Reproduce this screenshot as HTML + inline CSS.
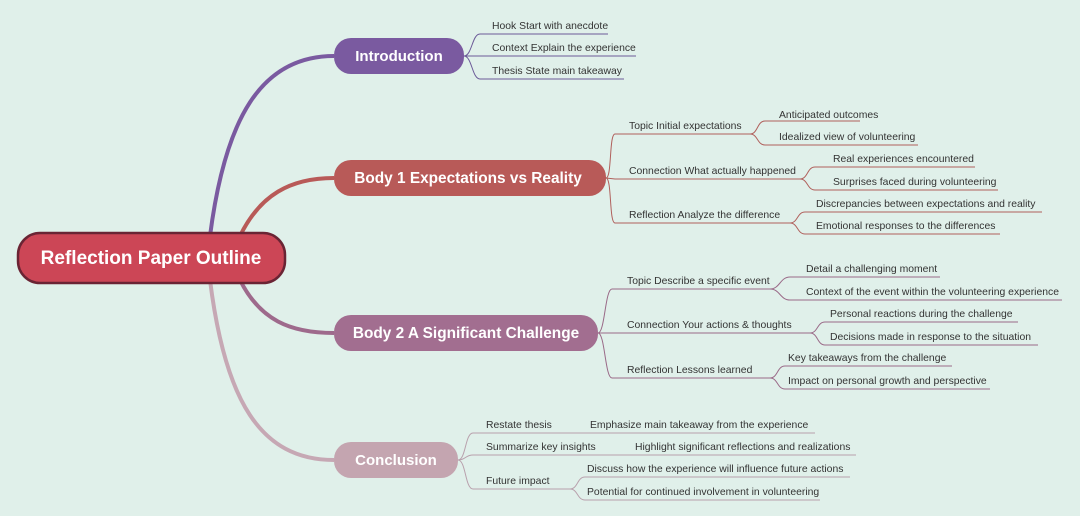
<!DOCTYPE html>
<html><head><meta charset="utf-8"><style>
html,body{margin:0;padding:0;width:1080px;height:516px;overflow:hidden;background:#e0f0ea;}
svg{display:block}
text{font-family:"Liberation Sans",Arial,sans-serif;}
.l{font-size:10.4px;fill:#333;}
.n{font-size:15px;font-weight:bold;fill:#fff;text-anchor:middle;}
</style></head><body>
<svg width="1080" height="516" viewBox="0 0 1080 516" xmlns="http://www.w3.org/2000/svg">
<rect width="1080" height="516" fill="#e0f0ea"/>
<path d="M210,236 C225,120 260,56 334,56" fill="none" stroke="#7a5aa0" stroke-width="4"/>
<path d="M240,236 C260,195 290,178 334,178" fill="none" stroke="#b85a58" stroke-width="4"/>
<path d="M240,280 C260,320 290,333 334,333" fill="none" stroke="#9e6a8c" stroke-width="4"/>
<path d="M210,280 C225,400 260,460 334,460" fill="none" stroke="#c6a8b4" stroke-width="4"/>

<g fill="none" stroke="#6b5a98" stroke-width="1">
<path d="M464,56 C472,56 472,34 480,34 L608,34"/>
<path d="M464,56 L636,56"/>
<path d="M464,56 C472,56 472,79 480,79 L624,79"/>
</g>
<g fill="none" stroke="#b0605c" stroke-width="1">
<path d="M606,178 C612,178 609,134 615,134 L750,134"/>
<path d="M606,178 L615,179 L800,179"/>
<path d="M606,178 C612,178 609,223 615,223 L790,223"/>
<path d="M750,134 C758,134 757,121 765,121 L860,121"/>
<path d="M750,134 C758,134 757,145 765,145 L918,145"/>
<path d="M800,179 C808,179 807,167 815,167 L975,167"/>
<path d="M800,179 C808,179 807,190 815,190 L998,190"/>
<path d="M790,223 C798,223 797,212 805,212 L1042,212"/>
<path d="M790,223 C798,223 797,234 805,234 L1000,234"/>
</g>
<g fill="none" stroke="#9a6a88" stroke-width="1">
<path d="M598,333 C605,333 605,289 612,289 L770,289"/>
<path d="M598,333 L810,333"/>
<path d="M598,333 C605,333 605,378 612,378 L770,378"/>
<path d="M770,289 C780,289 780,277 790,277 L940,277"/>
<path d="M770,289 C780,289 780,300 790,300 L1062,300"/>
<path d="M810,333 C818,333 817,322 825,322 L1018,322"/>
<path d="M810,333 C818,333 817,345 825,345 L1038,345"/>
<path d="M770,378 C778,378 777,366 785,366 L952,366"/>
<path d="M770,378 C778,378 777,389 785,389 L990,389"/>
</g>
<g fill="none" stroke="#b8a0ac" stroke-width="1">
<path d="M458,460 C466,460 465,433 473,433 L815,433"/>
<path d="M458,460 C466,460 465,455 473,455 L856,455"/>
<path d="M458,460 C466,460 465,489 473,489 L570,489"/>
<path d="M570,489 C578,489 577,477 585,477 L850,477"/>
<path d="M570,489 C578,489 577,500 585,500 L820,500"/>
</g>

<rect x="18" y="233" width="267" height="50" rx="22" fill="#cc4656" stroke="#6a2434" stroke-width="2.5"/>
<text x="151" y="264" class="n" style="font-size:19px">Reflection Paper Outline</text>
<rect x="334" y="38" width="130" height="36" rx="17" fill="#7a5aa0"/>
<text x="399" y="61" class="n">Introduction</text>
<rect x="334" y="160" width="272" height="36" rx="17" fill="#b85a58"/>
<text x="468" y="183" class="n" style="font-size:15.4px">Body 1 Expectations vs Reality</text>
<rect x="334" y="315" width="264" height="36" rx="17" fill="#a26e90"/>
<text x="466" y="338" class="n" style="font-size:15.4px">Body 2 A Significant Challenge</text>
<rect x="334" y="442" width="124" height="36" rx="17" fill="#c4a5b0"/>
<text x="396" y="465" class="n">Conclusion</text>

<g class="l">
<text x="492" y="29">Hook Start with anecdote</text>
<text x="492" y="51">Context Explain the experience</text>
<text x="492" y="74">Thesis State main takeaway</text>

<text x="629" y="129">Topic Initial expectations</text>
<text x="629" y="174">Connection What actually happened</text>
<text x="629" y="218">Reflection Analyze the difference</text>
<text x="779" y="118">Anticipated outcomes</text>
<text x="779" y="140">Idealized view of volunteering</text>
<text x="833" y="162">Real experiences encountered</text>
<text x="833" y="185">Surprises faced during volunteering</text>
<text x="816" y="207">Discrepancies between expectations and reality</text>
<text x="816" y="229">Emotional responses to the differences</text>

<text x="627" y="284">Topic Describe a specific event</text>
<text x="627" y="328">Connection Your actions &amp; thoughts</text>
<text x="627" y="373">Reflection Lessons learned</text>
<text x="806" y="272">Detail a challenging moment</text>
<text x="806" y="295">Context of the event within the volunteering experience</text>
<text x="830" y="317">Personal reactions during the challenge</text>
<text x="830" y="340">Decisions made in response to the situation</text>
<text x="788" y="361">Key takeaways from the challenge</text>
<text x="788" y="384">Impact on personal growth and perspective</text>

<text x="486" y="428">Restate thesis</text>
<text x="590" y="428">Emphasize main takeaway from the experience</text>
<text x="486" y="450">Summarize key insights</text>
<text x="635" y="450">Highlight significant reflections and realizations</text>
<text x="486" y="484">Future impact</text>
<text x="587" y="472">Discuss how the experience will influence future actions</text>
<text x="587" y="495">Potential for continued involvement in volunteering</text>
</g>
</svg>
</body></html>
